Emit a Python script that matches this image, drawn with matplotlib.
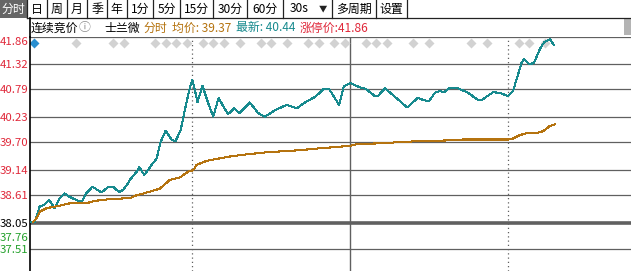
import matplotlib
matplotlib.use('Agg')
import matplotlib.pyplot as plt
import matplotlib.transforms as mtransforms
from matplotlib.patches import Rectangle

plt.rcParams['font.family'] = ['Noto Sans CJK SC', 'DejaVu Sans']

W, H = 631, 271

# minutes from 9:30 (120 = 13:00 after lunch break)
price_min = [-1.1, 0.2, 2.1, 3.7, 5.6, 7.7, 9.6, 11.5, 13.4, 16.6, 18.1, 19.7, 22.1, 25.5, 28.0,
             29.9, 32.2, 33.7, 35.6, 36.3, 39.2, 39.9, 41.8, 44.6, 46.5, 48.0, 49.9, 52.2, 53.7,
             55.6, 57.2, 58.9, 60.0, 61.0, 62.0, 63.9, 66.1, 68.0, 70.0, 73.6, 76.0, 77.9, 81.9,
             85.1, 87.6, 92.1, 95.9, 99.7, 102.8, 106.8, 109.8, 112.1, 115.8, 117.6, 120.0,
             123.8, 126.0, 129.4, 130.5, 133.2, 136.3, 138.9, 140.5, 141.7, 145.8, 147.7, 150.0,
             152.2, 154.1, 155.7, 157.9, 161.0, 164.8, 168.6, 169.9, 174.3, 176.9, 180.0, 181.9,
             185.1, 186.0, 188.0, 189.8, 192.1, 193.7, 195.9, 197.5]
price_val = [38.06, 38.07, 38.39, 38.41, 38.52, 38.35, 38.55, 38.65, 38.58, 38.50, 38.48, 38.65,
             38.79, 38.67, 38.78, 38.79, 38.68, 38.72, 38.86, 38.93, 39.12, 39.19, 39.03, 39.24,
             39.37, 39.71, 39.94, 39.75, 39.73, 39.95, 40.37, 40.78, 40.99, 40.78, 40.53, 40.86,
             40.50, 40.23, 40.61, 40.28, 40.40, 40.30, 40.52, 40.30, 40.23, 40.38, 40.47, 40.40,
             40.52, 40.64, 40.79, 40.79, 40.47, 40.85, 40.92, 40.83, 40.80, 40.65, 40.65, 40.81,
             40.67, 40.55, 40.47, 40.42, 40.62, 40.57, 40.55, 40.72, 40.76, 40.73, 40.82, 40.81,
             40.72, 40.57, 40.57, 40.73, 40.72, 40.65, 40.76, 41.33, 41.41, 41.31, 41.33, 41.62,
             41.76, 41.82, 41.70]

avg_min = [-0.5, 0.8, 2.2, 4.8, 7.7, 10.5, 13.6, 19.8, 23.2, 28.0, 34.3, 36.3, 38.1, 41.4, 46.5,
           47.7, 51.5, 55.3, 58.5, 60.4, 61.7, 65.5, 69.2, 74.3, 80.0, 88.9, 95.2, 100.9, 108.5,
           113.6, 119.9, 123.1, 131.3, 137.0, 147.1, 156.6, 162.9, 180.0, 181.9, 184.5, 187.0,
           191.4, 193.3, 195.9, 197.8]
avg_val = [38.06, 38.14, 38.28, 38.35, 38.38, 38.41, 38.45, 38.45, 38.50, 38.53, 38.55, 38.55,
           38.60, 38.65, 38.73, 38.75, 38.93, 38.98, 39.10, 39.13, 39.24, 39.32, 39.36, 39.41,
           39.45, 39.50, 39.52, 39.54, 39.58, 39.60, 39.63, 39.67, 39.68, 39.70, 39.73, 39.74,
           39.76, 39.76, 39.78, 39.85, 39.89, 39.90, 39.93, 40.04, 40.07]

# grey event markers along the top
mark_min = [16, 30, 34, 46, 50, 54, 58, 64, 68, 72, 78, 86, 90, 96, 104, 108, 114, 118,
            126, 130, 134, 144, 150, 166, 172, 184, 188, 194]

y_ticks = [41.86, 41.32, 40.79, 40.23, 39.70, 39.14, 38.61, 38.05, 37.76, 37.51]
grid_vals = [41.86, 41.32, 40.79, 40.23, 39.70, 39.14, 38.61, 37.51]
pre_close = 38.05

tabs = ['分时', '日', '周', '月', '季', '年', '1分', '5分', '15分', '30分', '60分', '30s', '多周期', '设置']
tab_edges = [0, 27, 46.7, 66.7, 87.3, 106.7, 126.7, 153.3, 180, 213.3, 246.7, 282.7, 331.7, 375.7, 407.3]

RED = '#e0283a'
GREEN = '#22a02a'
TEAL = '#178a8e'
BROWN = '#b5730f'
GRID = '#606060'

fig = plt.figure(figsize=(W / 100, H / 100), dpi=100)
fig.patch.set_facecolor('white')

top_px = 37.3
px_per = 48.66
ax = fig.add_axes([30 / W, 0, 601 / W, (H - top_px) / H])
ax.set_xlim(-1.63, 226.7)
ax.set_ylim(41.86 - (H - top_px) / px_per, 41.86)
for s in ['top', 'right', 'bottom']:
    ax.spines[s].set_visible(False)
ax.spines['left'].set_color('black')
ax.spines['left'].set_linewidth(1.2)
ax.set_xticks([])

for v in grid_vals:
    ax.axhline(v, color=GRID, lw=0.9, zorder=1)
ax.axhline(pre_close, color=GRID, lw=2.6, zorder=1)
ax.axvline(60, color=GRID, lw=0.9, ls=(0, (1, 2.4)), zorder=1)
ax.axvline(180, color=GRID, lw=0.9, ls=(0, (1, 2.4)), zorder=1)
ax.axvline(120, color=GRID, lw=1.0, zorder=1)

ax.plot(price_min, price_val, color=TEAL, lw=0.75, antialiased=False, zorder=3)
ax.plot(avg_min, avg_val, color=BROWN, lw=0.75, antialiased=False, zorder=3)

trans = mtransforms.blended_transform_factory(ax.transData, ax.transAxes)
ax.plot(mark_min, [0.975] * len(mark_min), transform=trans, ls='none', marker='D',
        ms=5.5, color='#d2d2d2', mec='none', zorder=2)
ax.plot([0], [0.975], transform=trans, ls='none', marker='D', ms=5.5, color='#2a8fd0',
        mec='none', zorder=2)

ax.set_yticks(y_ticks)
ax.set_yticklabels([f'{v:.2f}' for v in y_ticks])
ax.tick_params(axis='y', length=0, pad=1.2, labelsize=8.2)
for v, lab in zip(y_ticks, ax.get_yticklabels()):
    if v > pre_close:
        lab.set_color(RED)
    elif v < pre_close:
        lab.set_color(GREEN)
    else:
        lab.set_color('black')
ax.get_yticklabels()[0].set_va('top')

# header bars drawn in pixel coordinates
hdr = fig.add_axes([0, 0, 1, 1], zorder=5)
hdr.set_xlim(0, W)
hdr.set_ylim(H, 0)
hdr.axis('off')
hdr.patch.set_visible(False)

hdr.add_patch(Rectangle((0, 0), 27, 18, color='#666666', lw=0))
for x in tab_edges[1:]:
    hdr.plot([x, x], [0, 18], color='#222222', lw=0.9)
hdr.plot([27, W], [18.3, 18.3], color='#222222', lw=0.9)
hdr.plot([30, 30], [18.3, top_px], color='black', lw=1.2)
for i, t in enumerate(tabs):
    cx = (tab_edges[i] + tab_edges[i + 1]) / 2
    col = 'white' if i == 0 else 'black'
    if t == '30s':
        hdr.text(290, 9, t, ha='left', va='center', fontsize=8.6, color=col)
        hdr.text(323, 8.5, '▼', ha='center', va='center', fontsize=6, color='#222222')
    else:
        hdr.text(cx, 9, t, ha='center', va='center', fontsize=8.6, color=col)

hdr.add_patch(Rectangle((624, 19), 7, 16, color='#b4b4b4', lw=0))
hdr.text(31, 28, '连续竞价', ha='left', va='center', fontsize=8.6, color='black')
hdr.text(79, 28, 'ⓘ', ha='left', va='center', fontsize=8.6, color='#888888')
hdr.text(104, 28, '士兰微', ha='left', va='center', fontsize=8.6, color='black')
hdr.text(144, 28, '分时', ha='left', va='center', fontsize=8.6, color=BROWN)
hdr.text(172, 28, '均价: 39.37', ha='left', va='center', fontsize=8.6, color=BROWN)
hdr.text(236, 28, '最新: 40.44', ha='left', va='center', fontsize=8.6, color=TEAL)
hdr.text(300, 28, '涨停价:41.86', ha='left', va='center', fontsize=8.6, color=RED)

fig.savefig('out.png', dpi=100)
